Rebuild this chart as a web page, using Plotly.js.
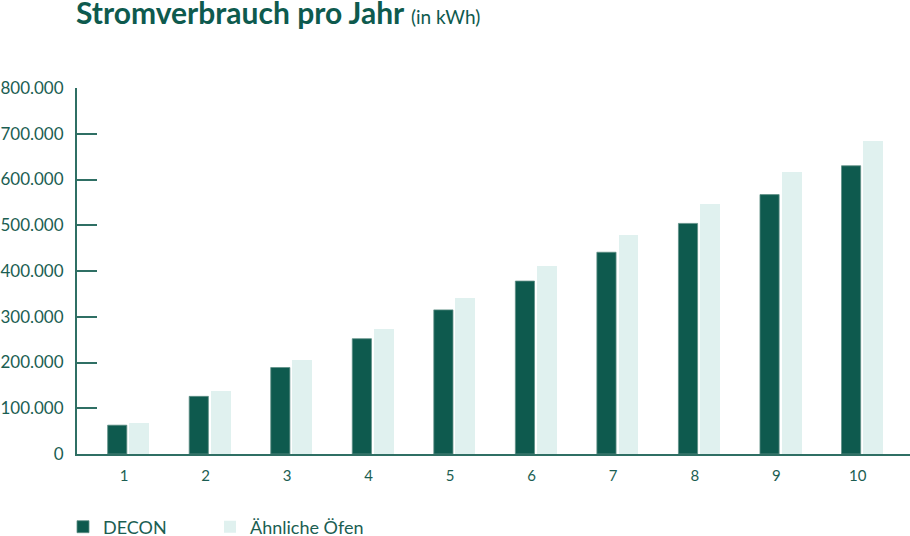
<!DOCTYPE html>
<html>
<head>
<meta charset="utf-8">
<script src="https://cdn.plot.ly/plotly-3.0.1.min.js"></script>
<style>html,body{margin:0;padding:0;background:#fff;}#chart{width:910px;height:536px;}</style>
</head>
<body>
<div id="chart"></div>
<script>
const years = [1, 2, 3, 4, 5, 6, 7, 8, 9, 10];
const decon = [63000, 126000, 189000, 252000, 315000, 378000, 441000, 504000, 567000, 630000];
const aehnliche = [68400, 136800, 205200, 273600, 342000, 410400, 478800, 547200, 615600, 684000];
const yTicks = [0, 100000, 200000, 300000, 400000, 500000, 600000, 700000, 800000];

const dark = '#0e5a4e';
const light = '#e0f1ef';
const axisCol = '#2f6f64';
const textCol = '#1b5e52';

const traces = [
  {type: 'bar', name: 'DECON', x: years, y: decon, width: 0.235, offset: -0.2, legend: 'legend',
   marker: {color: dark, line: {color: '#5f8f86', width: 0.8}}},
  {type: 'bar', name: 'Ähnliche Öfen', x: years, y: aehnliche, width: 0.245, offset: 0.065, legend: 'legend2',
   marker: {color: light, line: {width: 0}}}
];

const legendBase = {
  orientation: 'h', xref: 'container', y: 9/536, yref: 'container', yanchor: 'middle',
  font: {size: 18, color: textCol}, itemwidth: 30, bgcolor: 'rgba(0,0,0,0)'
};

const layout = {
  width: 910, height: 536,
  margin: {l: 77, r: 0, t: 88, b: 82},
  paper_bgcolor: '#fff', plot_bgcolor: '#fff',
  separators: ',.',
  font: {family: 'Lato, "Open Sans", sans-serif', color: textCol},
  title: {
    text: 'Stromverbrauch pro Jahr <span style="font-size:19px;font-weight:400">(in kWh)</span>',
    font: {family: 'Lato', size: 30, weight: 700, color: dark},
    x: 76/910, xanchor: 'left', xref: 'container',
    y: 1 - 13/536, yanchor: 'middle', yref: 'container'
  },
  showlegend: true,
  legend: Object.assign({}, legendBase, {x: 63/910}),
  legend2: Object.assign({}, legendBase, {x: 210/910}),
  xaxis: {
    range: [0.424, 10.64], tickvals: years, ticktext: years.map(String),
    showgrid: false, zeroline: false, showline: true, linecolor: axisCol, linewidth: 2,
    ticks: '', tickfont: {size: 15, color: textCol}, ticklabelstandoff: 7, fixedrange: true
  },
  yaxis: {
    range: [0, 800000], tickvals: yTicks, tickformat: ',d',
    showgrid: false, zeroline: false, showline: true, linecolor: axisCol, linewidth: 2,
    ticks: 'inside', ticklen: 20, tickwidth: 2, tickcolor: axisCol,
    tickfont: {size: 17, color: textCol}, ticklabelstandoff: 8, fixedrange: true
  },
  bargap: 0
};

Plotly.newPlot('chart', traces, layout, {displayModeBar: false, staticPlot: true});
</script>
</body>
</html>
